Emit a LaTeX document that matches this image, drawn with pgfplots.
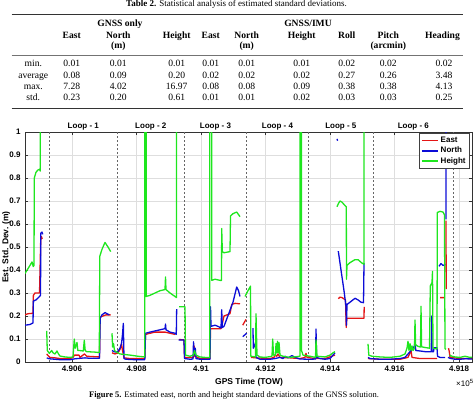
\documentclass[border=0pt]{standalone}
\usepackage{fontspec}
\setmainfont{Liberation Serif}
\newfontfamily\sansb{Liberation Sans}
\usepackage{pgfplots}
\pgfplotsset{compat=1.18}
\usepackage{pgfplotstable}

\definecolor{cE}{RGB}{228,20,20}
\definecolor{cN}{RGB}{12,12,215}
\definecolor{cH}{RGB}{30,230,30}

\pgfplotstableread{
t v
490454.3 0.205
490463.6 0.21
490479.1 0.212
490480.3 0.29
490485.3 0.30
490499.3 0.30
490503.0 0.53
490505.5 0.545
490507.6 0.535
nan nan
490521.6 0.035
490525.6 0.028
490531.8 0.02
490547.3 0.018
490562.8 0.015
490593.8 0.015
490603.1 0.02
490607.8 0.03
490621.7 0.03
490624.8 0.02
490634.1 0.03
490638.8 0.035
490645.5 0.025
490685.3 0.022
490686.8 0.195
490696.1 0.2
490705.4 0.205
490720.0 0.205
nan nan
490724.0 0.04
490733.3 0.035
490742.6 0.04
490748.8 0.055
490753.5 0.08
490756.6 0.05
490761.2 0.018
490779.8 0.015
490825.7 0.015
490827.9 0.12
490841.8 0.125
490857.3 0.13
490888.3 0.13
490903.8 0.125
490919.3 0.12
nan nan
490931.7 0.098
490947.2 0.096
490948.8 0.02
490976.7 0.02
490978.8 0.07
490981.3 0.025
490996.8 0.015
491027.8 0.015
491029.4 0.145
491043.3 0.145
491061.9 0.145
491065.0 0.16
491071.2 0.2
491080.5 0.205
491089.8 0.21
491095.1 0.25
491105.3 0.255
491120.8 0.253
nan nan
491129.2 0.16
491139.4 0.185
nan nan
491154.9 0.02
491170.4 0.018
491213.8 0.015
491226.2 0.02
491229.3 0.03
491234.6 0.025
491238.6 0.035
491244.8 0.02
491275.8 0.018
491306.8 0.015
491322.3 0.02
491325.4 0.038
491328.5 0.02
491353.3 0.015
491384.3 0.015
491415.3 0.03
nan nan
491425.5 0.275
491430.8 0.282
491437.0 0.28
491447.9 0.27
491450.0 0.15
491451.9 0.19
491477.3 0.19
491505.2 0.19
491505.8 0.24
nan nan
491517.6 0.015
491554.8 0.012
491616.8 0.012
491641.6 0.02
491647.8 0.04
491650.9 0.05
491654.0 0.02
491678.8 0.015
491731.5 0.015
nan nan
491740.8 0.28
491753.2 0.28
nan nan
491759.4 0.615
491760.0 0.317
nan nan
491767.2 0.06
491769.6 0.045
491771.8 0.02
491802.8 0.015
491846.2 0.015
}\eastdata

\pgfplotstableread{
t v
490454.3 0.16
490469.8 0.163
490479.1 0.17
490480.3 0.265
490488.4 0.27
490499.3 0.285
490502.4 0.29
490503.3 0.56
490507.0 0.565
490509.2 0.555
nan nan
490521.6 0.018
490529.6 0.014
490547.3 0.012
490562.8 0.01
490593.8 0.01
490609.3 0.014
490624.8 0.016
490640.3 0.018
490655.8 0.016
490685.3 0.016
490687.4 0.19
490693.0 0.205
490702.3 0.215
490708.5 0.21
490715.6 0.205
nan nan
490724.0 0.05
490730.2 0.045
490736.4 0.043
490742.6 0.047
490748.8 0.06
490753.5 0.08
490756.6 0.12
490759.1 0.168
490761.2 0.015
490767.4 0.012
490795.3 0.01
490825.7 0.01
490827.9 0.125
490841.8 0.13
490857.3 0.135
490872.8 0.14
490888.3 0.145
490889.9 0.165
490891.4 0.14
490903.8 0.13
490919.3 0.125
490923.3 0.12
490924.5 0.23
nan nan
490930.2 0.096
490947.2 0.096
490948.8 0.015
490965.8 0.012
490975.1 0.013
490976.7 0.088
490979.1 0.03
490982.2 0.06
490984.4 0.015
490996.8 0.012
491027.8 0.012
491029.4 0.24
491030.9 0.155
491043.3 0.16
491052.6 0.155
491061.9 0.148
491064.1 0.227
491066.0 0.15
491071.2 0.155
491080.5 0.19
491089.8 0.225
491099.1 0.26
491110.6 0.326
491116.2 0.31
491120.8 0.285
nan nan
491129.2 0.11
491141.6 0.125
nan nan
491161.1 0.147
491162.0 0.06
491165.8 0.07
491168.9 0.085
491170.4 0.02
491182.8 0.012
491213.8 0.012
491229.3 0.015
491244.8 0.02
491254.1 0.015
491260.3 0.025
491269.6 0.018
491282.0 0.028
491291.3 0.02
491306.8 0.013
491337.8 0.012
491355.2 0.013
491356.4 0.143
491358.3 0.02
491368.8 0.015
491384.3 0.012
491399.8 0.015
491409.1 0.03
491415.3 0.04
nan nan
491421.5 0.97
491423.4 0.962
nan nan
491425.5 0.482
491430.8 0.43
491437.0 0.37
491443.2 0.31
491449.4 0.242
491450.9 0.16
491452.5 0.25
491461.8 0.26
491477.3 0.277
491486.6 0.27
491495.9 0.26
491503.7 0.258
491505.2 0.43
nan nan
491517.6 0.02
491523.8 0.015
491554.8 0.012
491585.8 0.012
491616.8 0.015
491632.3 0.02
491641.6 0.035
491647.8 0.045
491657.1 0.06
491661.8 0.07
491663.3 0.103
491665.5 0.05
491678.8 0.048
491694.3 0.045
491713.8 0.045
491715.1 0.2
491716.0 0.045
491720.7 0.045
491722.2 0.062
491731.5 0.062
491733.1 0.025
491740.8 0.02
491756.3 0.02
nan nan
491737.7 0.416
491743.9 0.428
491750.1 0.42
491757.9 0.424
nan nan
491759.4 0.62
491760.0 5
nan nan
491765.6 0.02
491771.8 0.016
491787.3 0.012
491802.8 0.012
491818.3 0.014
491846.2 0.013
}\northdata

\pgfplotstableread{
t v
490454.3 0.385
490469.8 0.42
490476.0 0.435
490480.0 0.415
490482.2 0.42
490483.1 0.80
490488.4 0.825
490494.6 0.835
490499.3 0.838
490501.7 0.83
490502.4 5
nan nan
490521.6 0.135
490523.4 0.05
490529.6 0.038
490537.1 0.05
490541.1 0.04
490547.3 0.035
490553.5 0.048
490558.1 0.035
490562.8 0.026
490578.3 0.022
490593.8 0.02
490603.1 0.022
490607.1 0.10
490609.9 0.06
490612.4 0.07
490615.5 0.085
490618.0 0.05
490622.6 0.05
490635.0 0.048
490638.1 0.095
490640.9 0.05
490645.5 0.045
490671.3 0.043
490684.6 0.041
490686.2 0.46
490693.0 0.49
490702.3 0.52
490711.6 0.50
490720.0 0.48
nan nan
490724.0 0.125
490725.9 0.065
490728.7 0.08
490731.8 0.05
490736.4 0.045
490742.6 0.04
490748.8 0.035
490779.8 0.03
490804.6 0.025
490825.4 0.022
490826.3 5
490829.4 5
490830.0 0.285
490841.8 0.29
490857.3 0.30
490872.8 0.31
490888.3 0.315
490889.9 0.37
490891.4 0.315
490903.8 0.30
490919.3 0.285
490923.9 0.28
490924.5 5
nan nan
490931.7 0.24
490950.3 0.24
490951.9 0.03
490965.8 0.025
490976.0 0.03
490979.8 0.05
490984.4 0.03
490996.8 0.022
491012.3 0.02
491027.2 0.02
491027.8 5
491032.5 5
491033.1 0.355
491043.3 0.36
491058.8 0.355
491063.5 0.355
491064.1 0.58
491066.0 0.48
491071.2 0.475
491089.8 0.48
491091.4 0.635
491099.1 0.645
491110.6 0.652
491120.8 0.632
nan nan
491136.3 0.285
491145.6 0.31
491153.4 0.33
491154.3 0.025
491168.9 0.022
491170.4 0.21
491173.5 0.03
491182.8 0.022
491198.3 0.02
491220.0 0.025
491222.2 0.10
491224.7 0.03
491230.9 0.03
491232.4 0.08
491234.6 0.04
491237.1 0.09
491239.5 0.04
491241.7 0.085
491244.8 0.03
491254.1 0.025
491275.8 0.02
491306.8 0.025
491308.3 5
491310.8 5
491311.5 0.05
491316.1 0.03
491337.8 0.025
491354.9 0.02
491356.4 0.096
491359.5 0.025
491384.3 0.022
491399.8 0.03
491409.1 0.04
491415.3 0.045
nan nan
491421.5 0.675
491426.2 0.69
491430.8 0.70
491437.0 0.695
491446.3 0.68
491450.3 0.675
491450.9 0.36
491452.5 0.42
491461.8 0.432
491477.3 0.445
491486.6 0.445
491499.0 0.43
491505.2 0.425
491506.1 5
nan nan
491517.6 0.079
491520.1 0.03
491530.0 0.025
491554.8 0.022
491585.8 0.02
491616.8 0.025
491632.3 0.035
491638.5 0.06
491641.6 0.09
491644.7 0.05
491647.8 0.08
491650.9 0.05
491654.0 0.07
491657.1 0.05
491661.8 0.06
491663.3 0.183
491665.2 0.075
491672.6 0.068
491680.4 0.065
491681.9 0.242
491683.8 0.066
491694.3 0.063
491708.3 0.06
491710.7 0.33
491716.0 0.345
491717.6 0.394
491719.1 0.06
491725.3 0.058
491731.5 0.057
491732.4 0.65
491740.8 0.655
491750.1 0.652
491754.7 0.64
491756.3 0.058
491759.4 0.055
nan nan
491770.3 0.03
491778.0 0.025
491787.3 0.022
491802.8 0.02
491818.3 0.025
491833.8 0.02
491846.2 0.022
}\heightdata

\begin{document}
\begin{tikzpicture}[
  tab/.style={font=\fontsize{9.6}{11}\selectfont, anchor=base, inner sep=0pt},
  tabh/.style={font=\fontsize{9.6}{11}\selectfont\bfseries, anchor=base, inner sep=0pt},
  lbl/.style={font=\sansb\bfseries\fontsize{8}{9}\selectfont, inner sep=0pt}
]
% ---------- table ----------
\node[anchor=base, inner sep=0pt, font=\fontsize{9}{11}\selectfont] at (236.5pt,-6.5pt)
  {\textbf{Table 2.} Statistical analysis of estimated standard deviations.};
\draw[line width=1.3pt, black!80] (11.7pt,-14.3pt) -- (463.3pt,-14.3pt);
\draw[line width=0.8pt, black!55] (11.7pt,-55pt) -- (463.3pt,-55pt);
\draw[line width=1.3pt, black!80] (11.7pt,-108.3pt) -- (463.3pt,-108.3pt);
\node[tabh] at (120pt,-26.5pt) {GNSS only};
\node[tabh] at (308pt,-26.5pt) {GNSS/IMU};
\foreach \x/\s in {71.7/East,118.3/North,176.7/Height,210.7/East,246.7/North,301.7/Height,346.7/Roll,388.3/Pitch,442.5/Heading}
  \node[tabh] at (\x pt,-38.3pt) {\s};
\foreach \x/\s in {118.3/(m),246.7/(m),388.3/(arcmin)}
  \node[tabh] at (\x pt,-48.6pt) {\s};
\foreach \y/\r/\a/\b/\c/\d/\e/\f/\g/\h/\i in {
  66.8/min./0.01/0.01/0.01/0.01/0.01/0.01/0.02/0.02/0.02,
  78.3/average/0.08/0.09/0.20/0.02/0.02/0.02/0.27/0.26/3.48,
  89.6/max./7.28/4.02/16.97/0.08/0.08/0.09/0.38/0.38/4.13,
  100.9/std./0.23/0.20/0.61/0.01/0.01/0.02/0.03/0.03/0.25}{
  \node[tab] at (33.3pt,-\y pt) {\r};
  \node[tab] at (71.7pt,-\y pt) {\a};
  \node[tab] at (118.3pt,-\y pt) {\b};
  \node[tab] at (176.7pt,-\y pt) {\c};
  \node[tab] at (210.7pt,-\y pt) {\d};
  \node[tab] at (246.7pt,-\y pt) {\e};
  \node[tab] at (301.7pt,-\y pt) {\f};
  \node[tab] at (346.7pt,-\y pt) {\g};
  \node[tab] at (388.3pt,-\y pt) {\h};
  \node[tab] at (444pt,-\y pt) {\i};
}
% ---------- chart ----------
\begin{axis}[
  at={(25pt,-362pt)}, anchor=south west,
  width=447pt, height=230pt, scale only axis,
  xmin=490454.3, xmax=491840, ymin=0, ymax=1,
  xtick={490600,490800,491000,491200,491400,491600,491800},
  xticklabels={4.906,4.908,4.91,4.912,4.914,4.916,4.918},
  ytick={0,0.1,0.2,0.3,0.4,0.5,0.6,0.7,0.8,0.9,1},
  yticklabels={0,0.1,0.2,0.3,0.4,0.5,0.6,0.7,0.8,0.9,1},
  scaled x ticks=false,
  tick label style={font=\sansb\bfseries\fontsize{8}{9}\selectfont},
  yticklabel style={xshift=-1pt},
  grid=major, major grid style={black!13, line width=0.4pt},
  axis line style={black!80, line width=0.5pt},
  tick style={black!80, line width=0.5pt}, major tick length=3pt, tick align=inside,
  unbounded coords=jump,
  clip=true,
  legend style={at={(0.994,0.994)}, anchor=north east, draw=black!75, fill=white,
    font=\sansb\bfseries\fontsize{8}{8.5}\selectfont, inner sep=1.5pt, row sep=-1pt},
  legend cell align=left,
  legend image code/.code={\draw[#1] (0pt,0pt) -- (16pt,0pt);},
]
\foreach \t in {490529.6,490740.4,490948.1,491141.5,491332.5,491534.0,491782.0}{
  \edef\tmp{\noexpand\addplot[forget plot, black!60, line width=0.5pt, dash pattern=on 2.5pt off 1.5pt] coordinates {(\t,0) (\t,1)};}
  \tmp
}
\addplot[forget plot, cE, line width=1.3pt, line join=round] table[x=t, y=v] {\eastdata};
\addplot[forget plot, cN, line width=1.3pt, line join=round] table[x=t, y=v] {\northdata};
\addplot[forget plot, cH, line width=1.3pt, line join=round] table[x=t, y=v] {\heightdata};
\addlegendimage{draw=cE, line width=1.6pt}
\addlegendentry{East}
\addlegendimage{draw=cN, line width=1.6pt}
\addlegendentry{North}
\addlegendimage{draw=cH, line width=1.6pt}
\addlegendentry{Height}
\end{axis}
% loop labels
\foreach \x/\s in {83.3/1,150.8/2,215.5/3,277.5/4,340.8/5,413.3/6}
  \node[lbl, anchor=base] at (\x pt,-128pt) {Loop - \s};
\node[lbl, anchor=base, font=\sansb\bfseries\fontsize{8.5}{9}\selectfont] at (249pt,-384.5pt) {GPS Time (TOW)};
\node[lbl, anchor=base, rotate=90, font=\sansb\bfseries\fontsize{8.5}{9}\selectfont] at (8.5pt,-247pt) {Est. Std. Dev. (m)};
\node[anchor=base west, inner sep=0pt, font=\sansb\fontsize{8}{9}\selectfont] at (456pt,-386pt) {×10\textsuperscript{5}};
% bottom caption
\node[anchor=base, inner sep=0pt, font=\fontsize{8.5}{10}\selectfont] at (234pt,-397pt)
  {\textbf{Figure 5.} Estimated east, north and height standard deviations of the GNSS solution.};
\pgfresetboundingbox
\path[use as bounding box] (0pt,0pt) rectangle (474pt,-399pt);
\end{tikzpicture}
\end{document}
